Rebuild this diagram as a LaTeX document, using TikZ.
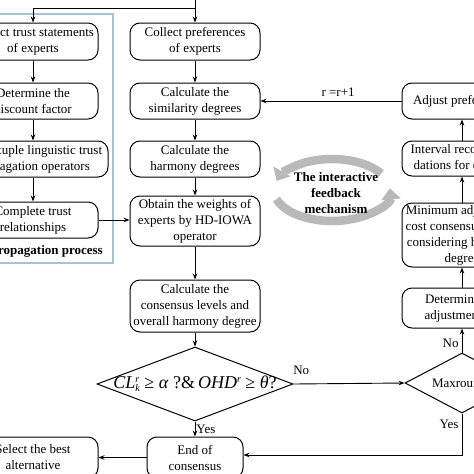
\documentclass[tikz,border=0pt]{standalone}
\usepackage{fontspec}
\setmainfont{Liberation Serif}
\usetikzlibrary{shapes.geometric,arrows.meta}
\definecolor{bluebox}{RGB}{165,195,210}
\definecolor{ringgray}{RGB}{185,185,185}
\newcommand{\smallit}[1]{{\fontsize{10}{10}\selectfont\textit{#1}}}
\begin{document}
\begin{tikzpicture}[x=1pt,y=-1pt,
  every node/.style={font=\fontsize{13}{16}\selectfont},
  box/.style={draw, rounded corners=10pt, align=center, inner sep=1pt, line width=1pt},
  dia/.style={diamond, draw, inner sep=0pt, line width=1pt},
  arr/.style={-{Stealth[length=6pt,width=4.5pt]}, line width=0.9pt},
  ring/.style={line width=8.5pt, ringgray},
  lbl/.style={inner sep=1pt}]
\useasboundingbox (0,0) rectangle (474,474);
\clip (0,0) rectangle (474,474);

% trust propagation frame
\draw[bluebox, line width=1.2pt] (-5,14) rectangle (113,263);

% left column
\node[box, minimum width=130pt, minimum height=37pt] (ct) at (33,41.5) {Collect trust statements\\of experts};
\node[box, minimum width=130pt, minimum height=36pt] (dd) at (33,101) {Determine the\\discount factor};
\node[box, minimum width=150pt, minimum height=36pt] (lt) at (33,159) {Use 2-tuple linguistic trust\\propagation operators};
\node[box, minimum width=130pt, minimum height=36pt] (cr) at (33,220) {Complete trust\\relationships};
\node[font=\fontsize{13}{16}\selectfont\bfseries, anchor=east, lbl] (tp) at (104,251) {Trust propagation process};

% middle column
\node[box, minimum width=130pt, minimum height=37pt] (cp) at (195,41.5) {Collect preferences\\of experts};
\node[box, minimum width=130pt, minimum height=36pt] (sim) at (195,101) {Calculate the\\similarity degrees};
\node[box, minimum width=130pt, minimum height=36pt] (har) at (195,159) {Calculate the\\harmony degrees};
\node[box, minimum width=130pt, minimum height=50pt] (ob) at (195,221) {Obtain the weights of\\experts by HD-IOWA\\operator};
\node[box, minimum width=130pt, minimum height=52pt] (cl) at (195,306) {Calculate the\\consensus levels and\\overall harmony degree};
\node[dia, minimum width=196pt, minimum height=74pt] (dm) at (195,384)
  {\makebox[0pt]{\fontsize{18}{20}\selectfont\textit{CL}\rlap{\raisebox{6pt}{\smallit{r}}}\raisebox{-3pt}{\smallit{k}} ≥ \textit{α} ?\&\,\textit{OHD}\raisebox{6pt}{\smallit{r}} ≥ \textit{θ}?}};
\node[box, minimum width=96pt, minimum height=41pt] (en) at (195,457.5) {End of\\consensus};
\node[box, minimum width=130pt, minimum height=41pt] (sel) at (33,457.5) {Select the best\\alternative};

% right column
\node[box, minimum width=120pt, minimum height=36pt] (adj) at (462,101) {Adjust preferences};
\node[box, minimum width=120pt, minimum height=35pt] (int) at (462,158.5) {Interval recommen-\\dations for experts};
\node[box, minimum width=120pt, minimum height=64pt] (mn) at (462,235) {Minimum adjustment\\cost consensus model\\considering harmony\\degree};
\node[box, minimum width=120pt, minimum height=40pt] (det) at (462,308) {Determine the\\adjustment set};
\node[dia, minimum width=114pt, minimum height=60pt] (mr) at (462,383) {\makebox[0pt]{Maxround?}};

% feedback mechanism
\coordinate (fc) at (332,190);
\draw[ring, -{Triangle[length=11pt,width=19pt]}] ([shift={(-32:58 and 31)}]fc) arc[start angle=-32, end angle=-163, x radius=58, y radius=31];
\draw[ring, -{Triangle[length=11pt,width=19pt]}] ([shift={(163:58 and 31)}]fc) arc[start angle=163, end angle=-3, x radius=58, y radius=31];
\node[font=\fontsize{13}{16}\selectfont\bfseries, align=center, lbl] (fb) at (336,193) {The interactive\\feedback\\mechanism};

% connectors
\coordinate (topin) at (195,-5);
\coordinate (tj) at (195,8);
\coordinate (tl) at (33,8);
\draw[arr] (topin) -- (cp.north);
\draw[arr] (tj) -- (tl) -- (ct.north);
\draw[arr] (ct.south) -- (dd.north);
\draw[arr] (dd.south) -- (lt.north);
\draw[arr] (lt.south) -- (cr.north);
\draw[arr] (cr.east) -- (cr.east -| ob.west);
\draw[arr] (cp.south) -- (sim.north);
\draw[arr] (sim.south) -- (har.north);
\draw[arr] (har.south) -- (ob.north);
\draw[arr] (ob.south) -- (cl.north);
\draw[arr] (cl.south) -- (dm.north);
\draw[arr] (dm.south) -- (en.north) node[pos=0.5, right, lbl] {Yes};
\draw[arr] (en.west) -- (sel.east);
\draw[arr] (dm.east) -- (mr.west) node[pos=0.07, above=8pt, lbl] {No};
\draw[arr] (mr.north) -- (det.south) node[pos=0.4, left=2pt, lbl] {No};
\coordinate (yb) at (462,455);
\draw[arr] (mr.south) -- (yb) node[pos=0.25, left=2pt, lbl] {Yes} -- (yb -| en.east);
\draw[arr] (det.north) -- (mn.south);
\draw[arr] (mn.north) -- (int.south);
\draw[arr] (int.north) -- (adj.south);
\draw[arr] (adj.west) -- (sim.east) node[pos=0.45, above=3pt, lbl] {r =r+1};
\end{tikzpicture}
\end{document}
